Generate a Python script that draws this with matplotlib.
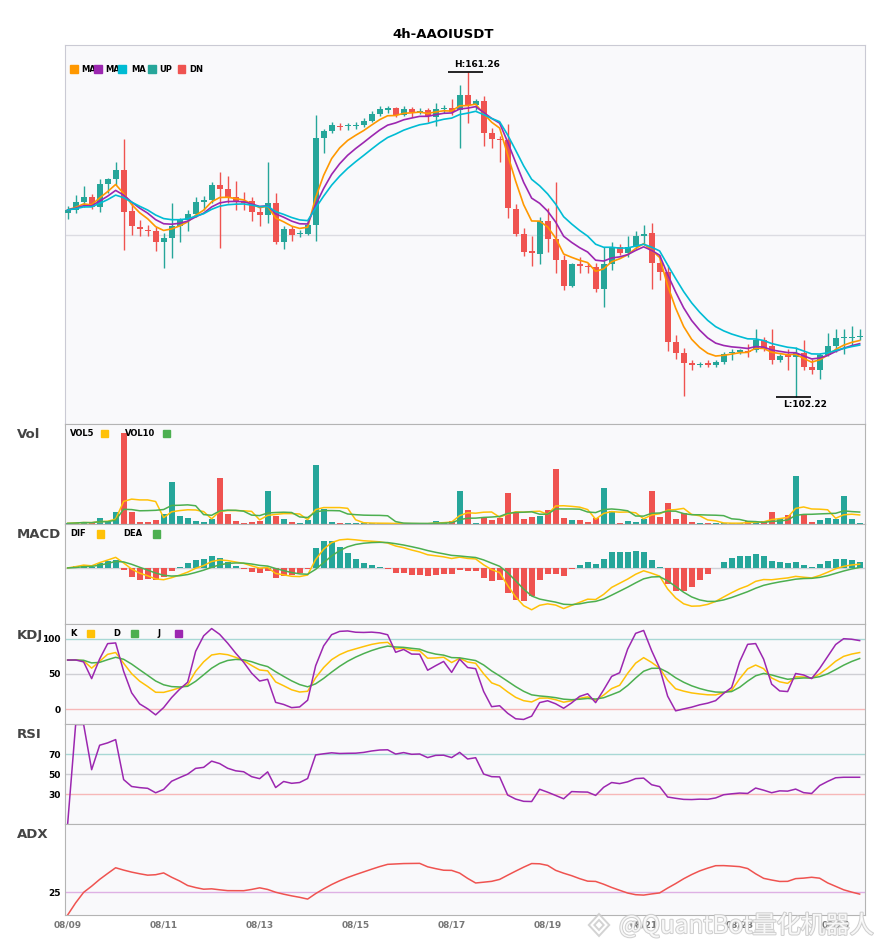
import numpy as np
import pandas as pd
import matplotlib
matplotlib.use("Agg")
from matplotlib import pyplot as plt
from matplotlib.patches import Rectangle, RegularPolygon
from matplotlib.transforms import Bbox
import matplotlib.patheffects as pe

# 4h candles, 08/09 00:00 .. 08/25 12:00
opens = [135.7, 136.2, 137.6, 138.5, 136.8, 140.9, 141.8, 143.4, 136.0, 133.1,
         132.6, 132.4, 130.3, 131.1, 133.3, 134.4, 135.5, 137.6, 138.0, 140.7,
         140.0, 138.5, 137.8, 137.8, 135.9, 135.2, 137.4, 130.4, 132.7, 131.9,
         131.9, 133.5, 149.2, 150.5, 151.5, 151.4, 151.4, 151.6, 152.3, 153.6,
         154.4, 154.7, 153.4, 154.5, 154.0, 154.3, 153.0, 154.5, 154.6, 154.3,
         157.0, 155.2, 155.9, 150.2, 149.1, 148.8, 136.4, 131.8, 128.7, 128.2,
         134.2, 131.0, 127.1, 122.4, 126.4, 126.0, 125.8, 121.9, 126.4, 129.5,
         128.4, 129.5, 131.5, 132.0, 126.6, 124.9, 112.3, 110.2, 108.4, 108.1,
         108.4, 108.1, 108.6, 110.2, 110.4, 110.7, 110.8, 112.6, 111.5, 109.0,
         109.8, 109.6, 110.2, 107.8, 107.2, 109.9, 111.5, 113.0, 113.0, 113.1]
highs = [136.9, 138.9, 140.5, 139.1, 141.8, 142.0, 144.9, 149.1, 137.4, 134.4,
         133.5, 133.1, 132.0, 137.5, 134.8, 136.2, 138.6, 138.8, 141.3, 143.1,
         142.3, 141.4, 139.4, 138.6, 136.8, 144.9, 139.2, 133.2, 133.2, 132.6,
         134.4, 153.4, 150.9, 152.2, 151.9, 151.9, 152.1, 152.8, 154.1, 155.0,
         155.0, 154.9, 155.0, 154.9, 154.6, 154.6, 155.6, 155.3, 156.4, 158.8,
         161.26, 156.3, 156.9, 151.1, 149.6, 151.8, 137.3, 133.0, 131.4, 134.9,
         136.5, 141.3, 128.0, 126.6, 127.6, 126.6, 126.6, 129.4, 130.4, 130.0,
         131.5, 132.3, 133.5, 133.8, 128.0, 126.3, 113.5, 111.1, 109.0, 108.7,
         109.0, 109.0, 110.5, 110.9, 111.0, 111.9, 114.6, 113.2, 114.6, 110.1,
         111.0, 111.3, 112.6, 109.1, 110.2, 113.9, 114.6, 114.6, 115.2, 114.6]
lows = [134.6, 135.7, 136.8, 136.4, 135.9, 139.2, 140.7, 129.0, 131.7, 131.5,
        131.5, 128.8, 125.6, 127.5, 130.4, 132.4, 135.0, 136.2, 137.4, 129.3,
        137.4, 136.2, 136.2, 134.1, 133.2, 133.9, 130.0, 129.2, 130.5, 131.2,
        131.7, 130.6, 146.5, 150.1, 150.6, 150.6, 150.8, 151.3, 152.1, 153.2,
        153.8, 153.0, 153.2, 153.1, 153.6, 152.2, 151.5, 153.8, 153.4, 147.4,
        152.0, 154.3, 147.8, 147.5, 144.9, 134.7, 131.4, 127.8, 126.0, 126.4,
        128.6, 124.8, 121.6, 122.2, 124.8, 124.7, 121.3, 118.6, 125.3, 128.0,
        127.7, 129.2, 129.8, 121.9, 123.5, 110.7, 109.1, 102.5, 107.1, 107.8,
        107.8, 107.8, 108.3, 108.9, 110.1, 109.5, 110.5, 110.7, 108.3, 108.7,
        107.1, 102.22, 107.2, 106.4, 105.6, 109.7, 110.5, 110.1, 111.7, 112.6]
closes = [136.2, 137.6, 138.5, 136.8, 140.9, 141.8, 143.4, 135.9, 133.2, 132.7,
          132.4, 130.3, 131.1, 133.3, 134.4, 135.5, 137.6, 138.0, 140.7, 140.0,
          138.6, 137.8, 137.5, 135.9, 135.2, 137.4, 130.4, 132.7, 131.7, 132.0,
          133.5, 149.2, 150.5, 151.6, 151.3, 151.5, 151.6, 152.3, 153.6, 154.5,
          154.7, 153.4, 154.5, 154.0, 154.2, 153.2, 154.5, 154.6, 154.0, 157.0,
          155.2, 155.9, 150.2, 149.0, 148.9, 136.6, 131.8, 128.6, 128.3, 134.1,
          131.0, 127.1, 122.4, 126.4, 126.0, 125.8, 121.9, 126.4, 129.4, 128.4,
          129.5, 131.5, 131.8, 126.6, 124.9, 112.3, 110.2, 108.4, 108.1, 108.3,
          108.1, 108.7, 110.1, 110.5, 110.8, 110.5, 112.6, 111.0, 109.0, 109.7,
          109.5, 110.2, 107.8, 107.2, 109.9, 111.5, 113.0, 113.2, 113.2, 113.2]
volumes = [2, 4, 7, 3, 19, 7, 37, 271, 37, 7,
           7, 13, 31, 124, 25, 19, 10, 7, 16, 136,
           31, 10, 4, 7, 10, 97, 25, 16, 7, 4,
           13, 175, 46, 7, 4, 2, 4, 2, 2, 2,
           1, 1, 1, 1, 1, 1, 10, 7, 10, 97,
           43, 4, 22, 13, 19, 91, 37, 16, 22, 25,
           43, 163, 19, 13, 13, 7, 19, 106, 40, 4,
           10, 7, 16, 97, 22, 64, 16, 34, 7, 2,
           2, 2, 3, 3, 2, 10, 7, 10, 37, 16,
           28, 142, 31, 7, 13, 19, 16, 82, 16, 2]
tick_labels = ["08/09", "08/11", "08/13", "08/15", "08/17", "08/19", "08/21", "08/23", "08/25"]
ma_periods = [5, 8, 12]

UP = "#26a69a"
DN = "#ef5350"
BG = "#f9f9fb"

df = pd.DataFrame({"open": opens, "high": highs, "low": lows, "close": closes, "vol": volumes})
n = len(df)
x = np.arange(n)
c = df["close"]

mas = [c.ewm(span=p, adjust=False).mean() for p in ma_periods]
vol5 = df["vol"].rolling(5, min_periods=1).mean()
vol10 = df["vol"].rolling(10, min_periods=1).mean()

# MACD (6, 13, 5)
dif = c.ewm(span=6, adjust=False).mean() - c.ewm(span=13, adjust=False).mean()
dea = dif.ewm(span=5, adjust=False).mean()
hist = 2 * (dif - dea)

# KDJ
llv = df["low"].rolling(9, min_periods=1).min()
hhv = df["high"].rolling(9, min_periods=1).max()
rsv = ((c - llv) / (hhv - llv) * 100).fillna(50)
k = rsv.ewm(com=2, adjust=False).mean()
d = k.ewm(com=2, adjust=False).mean()
j = 3 * k - 2 * d

# RSI (wilder 14)
diff = c.diff().fillna(0)
gain = diff.clip(lower=0).ewm(alpha=1 / 14, adjust=False).mean()
loss = (-diff.clip(upper=0)).ewm(alpha=1 / 14, adjust=False).mean()
rsi = (100 * gain / (gain + loss)).fillna(0)

# ADX
prev_c = c.shift(1).fillna(c.iloc[0])
tr = pd.concat([df["high"] - df["low"], (df["high"] - prev_c).abs(), (df["low"] - prev_c).abs()], axis=1).max(axis=1)
up_move = df["high"].diff().fillna(0)
dn_move = -df["low"].diff().fillna(0)
pdm = np.where((up_move > dn_move) & (up_move > 0), up_move, 0.0)
mdm = np.where((dn_move > up_move) & (dn_move > 0), dn_move, 0.0)
atr = tr.ewm(span=14, adjust=False).mean()
pdi = 100 * pd.Series(pdm).ewm(span=14, adjust=False).mean() / atr
mdi = 100 * pd.Series(mdm).ewm(span=14, adjust=False).mean() / atr
dx = (100 * (pdi - mdi).abs() / (pdi + mdi)).fillna(0)
adx = dx.ewm(span=14, adjust=False).mean()

W, H = 885, 950
fig = plt.figure(figsize=(W / 100, H / 100), dpi=100)


def panel(top, bottom, spine="#b4b4b4"):
    ax = fig.add_axes([65 / W, 1 - bottom / H, 800 / W, (bottom - top) / H])
    ax.set_facecolor(BG)
    ax.set_xlim(-0.33, n - 0.33)
    for s in ax.spines.values():
        s.set_color(spine)
    ax.tick_params(length=0)
    ax.set_xticks([])
    ax.set_yticks([])
    return ax


ax = panel(45, 424, spine="#cacad4")
ax_v = panel(424, 524)
ax_m = panel(524, 624)
ax_k = panel(624, 724)
ax_r = panel(724, 824)
ax_a = panel(824, 915)

# candles
up = df["close"] >= df["open"]
colors = np.where(up, UP, DN)
body_lo = np.minimum(df["open"], df["close"])
body_h = np.maximum((df["close"] - df["open"]).abs(), 0.15)
ax.vlines(x, df["low"], df["high"], colors=colors, linewidth=1, zorder=2)
ax.bar(x, body_h, bottom=body_lo, width=0.75, color=colors, zorder=3)
for ma, col in zip(mas, ["#ff9800", "#9c27b0", "#00bcd4"]):
    ax.plot(x, ma, color=col, lw=1.2, zorder=4)

hi_i = int(df["high"].idxmax())
lo_i = int(df["low"].idxmin())
hi_v = df["high"][hi_i]
lo_v = df["low"][lo_i]
rng = hi_v - lo_v
ax.set_ylim(lo_v - 0.082 * rng, hi_v + 0.082 * rng)
ax.set_yticks([(hi_v + lo_v) / 2])
ax.set_yticklabels([])
ax.grid(axis="y", color="#dcdce2", lw=1)
ax.set_axisbelow(True)
ax.hlines(hi_v, hi_i - 2.5, hi_i + 1.9, color="black", lw=1.2, zorder=5)
ax.hlines(lo_v, lo_i - 2.5, lo_i + 1.9, color="black", lw=1.2, zorder=5)
ax.annotate(f"H:{hi_v:.2f}", (hi_i + 1.2, hi_v), xytext=(0, 2), textcoords="offset points",
            ha="center", va="bottom", fontsize=6.5, fontweight="bold")
ax.annotate(f"L:{lo_v:.2f}", (lo_i + 1.2, lo_v), xytext=(0, -2), textcoords="offset points",
            ha="center", va="top", fontsize=6.5, fontweight="bold")

# volume
ax_v.bar(x, df["vol"], width=0.75, color=colors)
ax_v.plot(x, vol5, color="#ffc107", lw=1.1)
ax_v.plot(x, vol10, color="#4caf50", lw=1.1)
ax_v.set_ylim(0, df["vol"].max() * 1.1)

# macd
ax_m.bar(x, hist, width=0.75, color=np.where(hist >= 0, UP, DN))
ax_m.plot(x, dif, color="#ffc107", lw=1.1)
ax_m.plot(x, dea, color="#4caf50", lw=1.1)
ax_m.axhline(0, color="#d0d0d6", lw=1, zorder=0)
dmin = dif.min()
ax_m.set_ylim(1.34 * dmin, -1.05 * dmin)

# kdj
for lvl, col in [(100, "#a8d8d5"), (50, "#cfcfd4"), (0, "#f7b8b8")]:
    ax_k.axhline(lvl, color=col, lw=1, zorder=0)
ax_k.plot(x, k, color="#ffc107", lw=1.1)
ax_k.plot(x, d, color="#4caf50", lw=1.1)
ax_k.plot(x, j, color="#9c27b0", lw=1.1)
ax_k.set_yticks([0, 50, 100])

# rsi
for lvl, col in [(70, "#a8d8d5"), (50, "#cfcfd4"), (30, "#f7b8b8")]:
    ax_r.axhline(lvl, color=col, lw=1, zorder=0)
ax_r.plot(x, rsi, color="#9c27b0", lw=1.1)
ax_r.set_ylim(0, 100.5)
ax_r.set_yticks([30, 50, 70])

# adx
ax_a.axhline(25, color="#deb1e4", lw=1, zorder=0)
ax_a.plot(x, adx, color="#ef5350", lw=1.1)
ax_a.set_ylim(0, 100)
ax_a.set_yticks([25])

for a in (ax_k, ax_r, ax_a):
    a.tick_params(axis="y", length=0, pad=3, labelsize=6.5)
    for t in a.get_yticklabels():
        t.set_fontweight("bold")

ax_a.set_xticks(np.arange(0, n, 12))
ax_a.set_xticklabels(tick_labels)
ax_a.tick_params(axis="x", length=0, pad=4, labelsize=6.5, labelcolor="#777777")
for t in ax_a.get_xticklabels():
    t.set_fontweight("bold")

fig.text(443 / W, 1 - 34 / H, "4h-AAOIUSDT", ha="center", va="center",
         fontsize=9.5, fontweight="bold")

for label, y in [("Vol", 435), ("MACD", 535), ("KDJ", 635), ("RSI", 735), ("ADX", 835)]:
    fig.text(17 / W, 1 - y / H, label, ha="left", va="center", fontsize=9.5,
             fontweight="bold", color="#444444")


def legend(items, y, size=7.7):
    # items: (text, text_x, square_x, colour); squares sit on top of the texts
    for txt, tx, sx, col in items:
        t = fig.text(tx / W, 1 - y / H, txt, ha="left", va="center", fontsize=6,
                     fontweight="bold", zorder=4)
        if txt.startswith("MA"):
            # the period digits are hidden under the next swatch
            t.set_clip_box(Bbox.from_extents(tx - 2, 0, tx + 14.5, H))
            t.set_clip_on(True)
        fig.add_artist(Rectangle((sx / W, 1 - (y + size / 2) / H), size / W, size / H,
                                 transform=fig.transFigure, color=col, zorder=5))


ma_labels = [f"MA{p}" for p in ma_periods]
legend([(ma_labels[0], 81, 70, "#ff9800"), (ma_labels[1], 105, 94.3, "#9c27b0"),
        (ma_labels[2], 131, 118.3, "#00bcd4"), ("UP", 159, 148, UP), ("DN", 189, 177.7, DN)], 69)
legend([("VOL5", 70, 101, "#ffc107"), ("VOL10", 125, 163, "#4caf50")], 433.5, 7.3)
legend([("DIF", 70, 97, "#ffc107"), ("DEA", 123, 153, "#4caf50")], 534, 7.3)
legend([("K", 70, 87, "#ffc107"), ("D", 113, 131, "#4caf50"), ("J", 157, 175, "#9c27b0")], 633.5, 7.3)

# watermark
for r in (11, 5):
    fig.add_artist(RegularPolygon((599 / W, 1 - 925 / H), 4, radius=r / H, orientation=0,
                                  transform=fig.transFigure, fc="white", ec="#c8c8c8",
                                  lw=1.4, alpha=0.8, zorder=6))
fig.text(619 / W, 1 - 926 / H, "@QuantBot量化机器人", ha="left", va="center", fontsize=17.5,
         family=["Noto Sans CJK SC", "DejaVu Sans"], color="white", alpha=0.85, zorder=6,
         path_effects=[pe.withStroke(linewidth=1.5, foreground="#c8c8c8")])

fig.savefig("out.png", dpi=100, facecolor="white")
